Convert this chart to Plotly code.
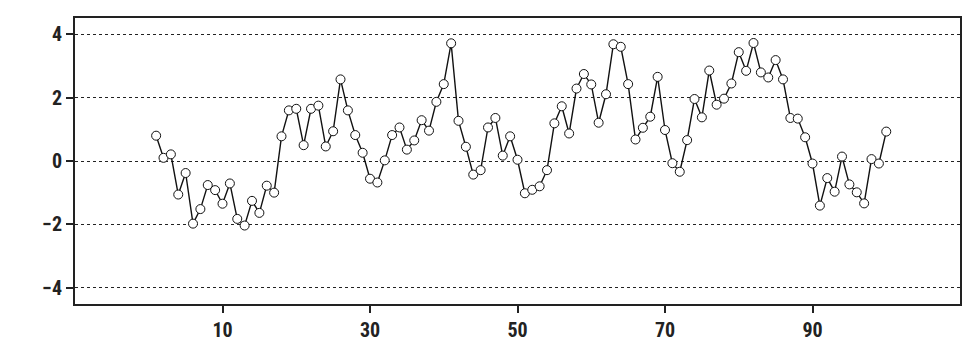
import plotly.graph_objects as go

x_index = list(range(1, 101))
values = [
    0.80, 0.10, 0.21, -1.06, -0.38, -1.98, -1.52, -0.76, -0.92, -1.35,
    -0.71, -1.83, -2.04, -1.26, -1.64, -0.78, -1.00, 0.78, 1.60, 1.65,
    0.50, 1.65, 1.75, 0.46, 0.94, 2.58, 1.60, 0.82, 0.26, -0.56,
    -0.68, 0.02, 0.82, 1.06, 0.36, 0.65, 1.29, 0.96, 1.87, 2.43,
    3.72, 1.27, 0.45, -0.43, -0.29, 1.06, 1.36, 0.17, 0.78, 0.04,
    -1.02, -0.91, -0.80, -0.29, 1.19, 1.73, 0.87, 2.29, 2.75, 2.42,
    1.21, 2.11, 3.69, 3.61, 2.43, 0.68, 1.05, 1.40, 2.66, 0.98,
    -0.07, -0.34, 0.66, 1.96, 1.38, 2.86, 1.78, 1.97, 2.45, 3.44,
    2.85, 3.73, 2.80, 2.64, 3.19, 2.58, 1.36, 1.34, 0.75, -0.08,
    -1.41, -0.54, -0.97, 0.14, -0.74, -0.99, -1.34, 0.06, -0.08, 0.93,
]
x_ticks = [10, 30, 50, 70, 90]
y_ticks = [-4, -2, 0, 2, 4]

fig = go.Figure()
fig.add_trace(go.Scatter(
    x=x_index, y=values, mode="lines+markers",
    line=dict(color="#111111", width=1.4),
    marker=dict(size=9, color="white", line=dict(color="#111111", width=1)),
    showlegend=False, hoverinfo="skip",
))

tick_font = dict(family="Roboto Condensed, DejaVu Sans Condensed, Roboto, sans-serif",
                 size=20, color="#222222", weight="bold")

fig.update_layout(
    width=973, height=355,
    margin=dict(l=75, r=11, t=18, b=51),
    paper_bgcolor="white", plot_bgcolor="white",
    xaxis=dict(
        range=[-10, 110], tickvals=x_ticks, ticks="outside", ticklen=7,
        tickwidth=1.5, tickcolor="#222222", showgrid=False, zeroline=False,
        showline=True, mirror=True, linecolor="#222222", linewidth=2,
        tickfont=tick_font,
    ),
    yaxis=dict(
        range=[-4.52, 4.52], tickvals=y_ticks, ticktext=["\u22124", "\u22122", "0", "2", "4"],
        ticks="outside", ticklen=7, tickwidth=1.5, tickcolor="#222222",
        showgrid=True, gridcolor="#222222", gridwidth=1, griddash="3px,3px",
        zeroline=False, showline=True, mirror=True, linecolor="#222222", linewidth=2,
        tickfont=tick_font,
    ),
)

fig.write_html("out.html")
